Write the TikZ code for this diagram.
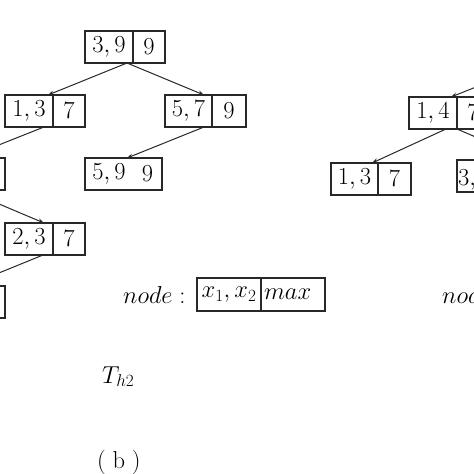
\RequirePackage{fix-cm}
\documentclass[tikz,border=0pt]{standalone}
\usetikzlibrary{arrows.meta}
\definecolor{ink}{RGB}{40,40,40}
\tikzset{
  cell/.style={draw=ink, line width=1.1pt, minimum height=32pt, inner sep=0pt, outer sep=0pt},
  ghost/.style={minimum height=32pt, inner sep=0pt, outer sep=0pt},
  arr/.style={draw=ink, line width=1pt, -{Stealth[length=6pt,width=4.5pt]}},
  lbl/.style={anchor=base west, inner sep=0pt},
}
\newcommand{\mkpair}[7]{%
  \node[cell, minimum width=#4pt, anchor=north west] (#1-l) at (#2,#3) {#6};
  \node[cell, minimum width=#5pt, anchor=north west] (#1-r) at (#1-l.north east) {#7};
}
\begin{document}
\begin{tikzpicture}[x=1pt,y=-1pt,font=\fontsize{24.5}{28}\selectfont]
\clip (0,0) rectangle (474,474);
\fill[white] (0,0) rectangle (474,474);
% left tree
\mkpair{root}{85}{31}{48}{32}{$3,9$}{$9$}
\mkpair{a}{5}{95}{48}{32}{$1,3$}{$7$}
\mkpair{b}{165}{95}{47}{34}{$5,7$}{$9$}
\node[ghost, minimum width=48pt, anchor=north west] (c-l) at (85,158) {$5,9$};
\node[ghost, minimum width=29pt, anchor=north west] (c-r) at (c-l.north east) {$9$};
\draw[draw=ink, line width=1.1pt] (c-l.north west) rectangle (c-r.south east);
\mkpair{L1}{-75}{158}{48}{32}{}{}
\mkpair{d}{5}{223}{48}{32}{$2,3$}{$7$}
\mkpair{L2}{-75}{286}{48}{32}{}{}
\draw[arr] ([xshift=-6pt]root-l.south east) -- ([xshift=-5pt]a-l.north east);
\draw[arr] ([xshift=-6pt]root-l.south east) -- ([xshift=-8pt]b-l.north east);
\draw[arr] ([xshift=-9pt]a-l.south east) -- ([xshift=-7pt]L1-l.north east);
\draw[arr] ([xshift=-8pt]b-l.south east) -- ([xshift=-6pt]c-l.north east);
\draw[arr] ([xshift=-7pt]L1-l.south east) -- ([xshift=-9pt]d-l.north east);
\draw[arr] ([xshift=-10pt]d-l.south east) -- ([xshift=-6pt]L2-l.north east);
% right tree
\mkpair{P}{495}{31}{48}{32}{}{}
\mkpair{e}{409}{97}{48}{32}{$1,4$}{$7$}
\mkpair{f}{331}{163}{47}{33}{$1,3$}{$7$}
\mkpair{g}{457}{160}{48}{32}{}{}
\node[lbl] (g-t) at (458,185) {$3,$};
\draw[arr] ([xshift=-7pt]P-l.south east) -- ([xshift=-6pt]e-l.north east);
\draw[arr] ([xshift=-11pt]e-l.south east) -- ([xshift=-6pt]f-l.north east);
\draw[arr] (e-l.south east) -- ([xshift=24pt]g-l.north east);
% legend
\node[lbl] (leg) at (123,303) {$node:$};
\node[cell, minimum width=64pt, minimum height=33pt, anchor=north west] (leg-l) at (197,278) {$x_1,x_2$};
\node[cell, minimum width=64pt, minimum height=33pt, text width=58pt, inner xsep=3pt, align=left, anchor=north west] (leg-r) at (leg-l.north east) {$max$};
\node[lbl] (leg2) at (442,303) {$node:$};
% captions
\node[lbl] (th) at (102,383) {$T_{h2}$};
\node[lbl] (cap) at (97,468) {(\;b\;)};
\end{tikzpicture}
\end{document}
